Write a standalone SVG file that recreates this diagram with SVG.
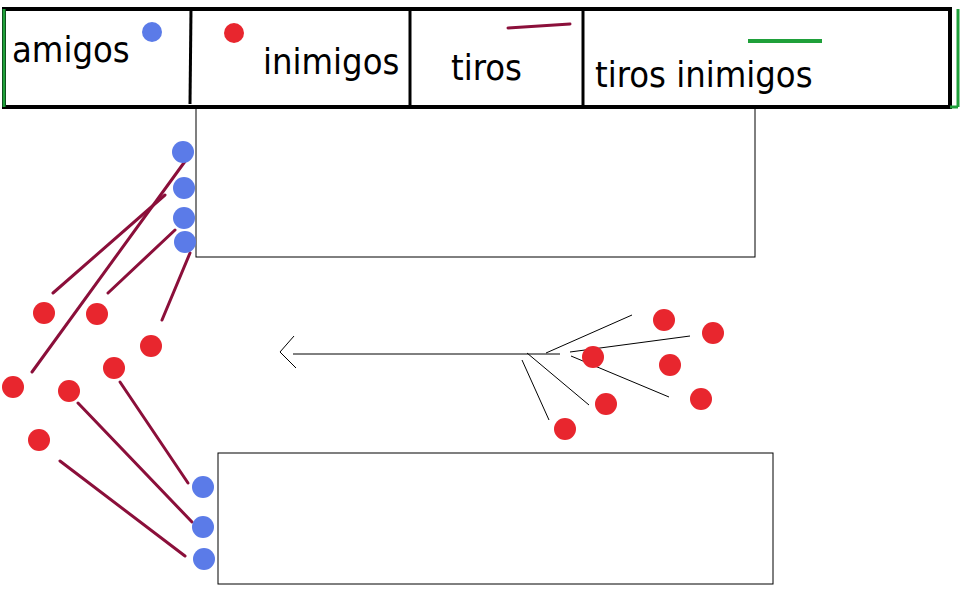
<svg xmlns="http://www.w3.org/2000/svg" width="962" height="590" viewBox="0 0 962 590">
<style>
text{font-family:"DejaVu Sans Condensed","Liberation Sans",sans-serif;font-size:36px;fill:#000}
.b{fill:#5b7be8}.r{fill:#e8262e}.t{stroke:#8b0f3a;stroke-width:3;stroke-linecap:round}
.k{stroke:#000;stroke-width:1;fill:none}
</style>
<rect width="962" height="590" fill="#fff"/>
<g id="legend">
<rect x="4" y="9" width="946" height="98" fill="none" stroke="#000" stroke-width="4"/>
<line x1="4" y1="9" x2="4" y2="107" stroke="#1fa03a" stroke-width="3"/>
<line x1="958" y1="9" x2="958" y2="107" stroke="#1fa03a" stroke-width="3"/>
<line x1="950" y1="107" x2="958" y2="107" stroke="#1fa03a" stroke-width="3"/>
<line x1="191" y1="9" x2="190" y2="104" stroke="#000" stroke-width="3"/>
<line x1="410" y1="9" x2="410" y2="108" stroke="#000" stroke-width="3"/>
<line x1="583" y1="9" x2="583" y2="108" stroke="#000" stroke-width="3"/>
<text x="12" y="62">amigos</text>
<text x="263" y="74">inimigos</text>
<text x="451" y="80">tiros</text>
<text x="595" y="87">tiros inimigos</text>
<circle class="b" cx="152" cy="32" r="10"/>
<circle class="r" cx="234" cy="33" r="10"/>
<line class="t" x1="508" y1="28" x2="570" y2="24" stroke-width="4"/>
<line x1="748" y1="41" x2="822" y2="41" stroke="#1fa03a" stroke-width="4"/>
</g>
<g id="boxes">
<rect id="top-box" x="196" y="108" width="559" height="149" fill="none" stroke="#000"/>
<rect id="bottom-box" x="218" y="453" width="555" height="131" fill="none" stroke="#000"/>
</g>
<g id="connectors">
<line class="t" x1="53" y1="293" x2="165" y2="195"/>
<line class="t" x1="32" y1="372" x2="186" y2="160"/>
<line class="t" x1="108" y1="293" x2="175" y2="230"/>
<line class="t" x1="162" y1="320" x2="190" y2="253"/>
<line class="t" x1="120" y1="382" x2="188" y2="483"/>
<line class="t" x1="78" y1="403" x2="192" y2="522"/>
<line class="t" x1="60" y1="461" x2="185" y2="556"/>
<line class="k" x1="293" y1="354" x2="560" y2="354"/>
<polyline class="k" points="294,336 280,352 296,368"/>
<line class="k" x1="546" y1="353" x2="632" y2="315"/>
<line class="k" x1="570" y1="352" x2="690" y2="336"/>
<line class="k" x1="571" y1="356" x2="669" y2="397"/>
<line class="k" x1="527" y1="353" x2="589" y2="405"/>
<line class="k" x1="522" y1="360" x2="549" y2="420"/>
</g>
<g id="amigos">
<circle class="b" cx="183" cy="152" r="11"/>
<circle class="b" cx="184" cy="188" r="11"/>
<circle class="b" cx="184" cy="218" r="11"/>
<circle class="b" cx="185" cy="242" r="11"/>
<circle class="b" cx="203" cy="487" r="11"/>
<circle class="b" cx="203" cy="527" r="11"/>
<circle class="b" cx="204" cy="559" r="11"/>
</g>
<g id="inimigos">
<circle class="r" cx="44" cy="313" r="11"/>
<circle class="r" cx="97" cy="314" r="11"/>
<circle class="r" cx="151" cy="346" r="11"/>
<circle class="r" cx="114" cy="368" r="11"/>
<circle class="r" cx="13" cy="387" r="11"/>
<circle class="r" cx="69" cy="391" r="11"/>
<circle class="r" cx="39" cy="440" r="11"/>
<circle class="r" cx="664" cy="320" r="11"/>
<circle class="r" cx="713" cy="333" r="11"/>
<circle class="r" cx="593" cy="357" r="11"/>
<circle class="r" cx="670" cy="365" r="11"/>
<circle class="r" cx="701" cy="399" r="11"/>
<circle class="r" cx="606" cy="404" r="11"/>
<circle class="r" cx="565" cy="429" r="11"/>
</g>
</svg>
